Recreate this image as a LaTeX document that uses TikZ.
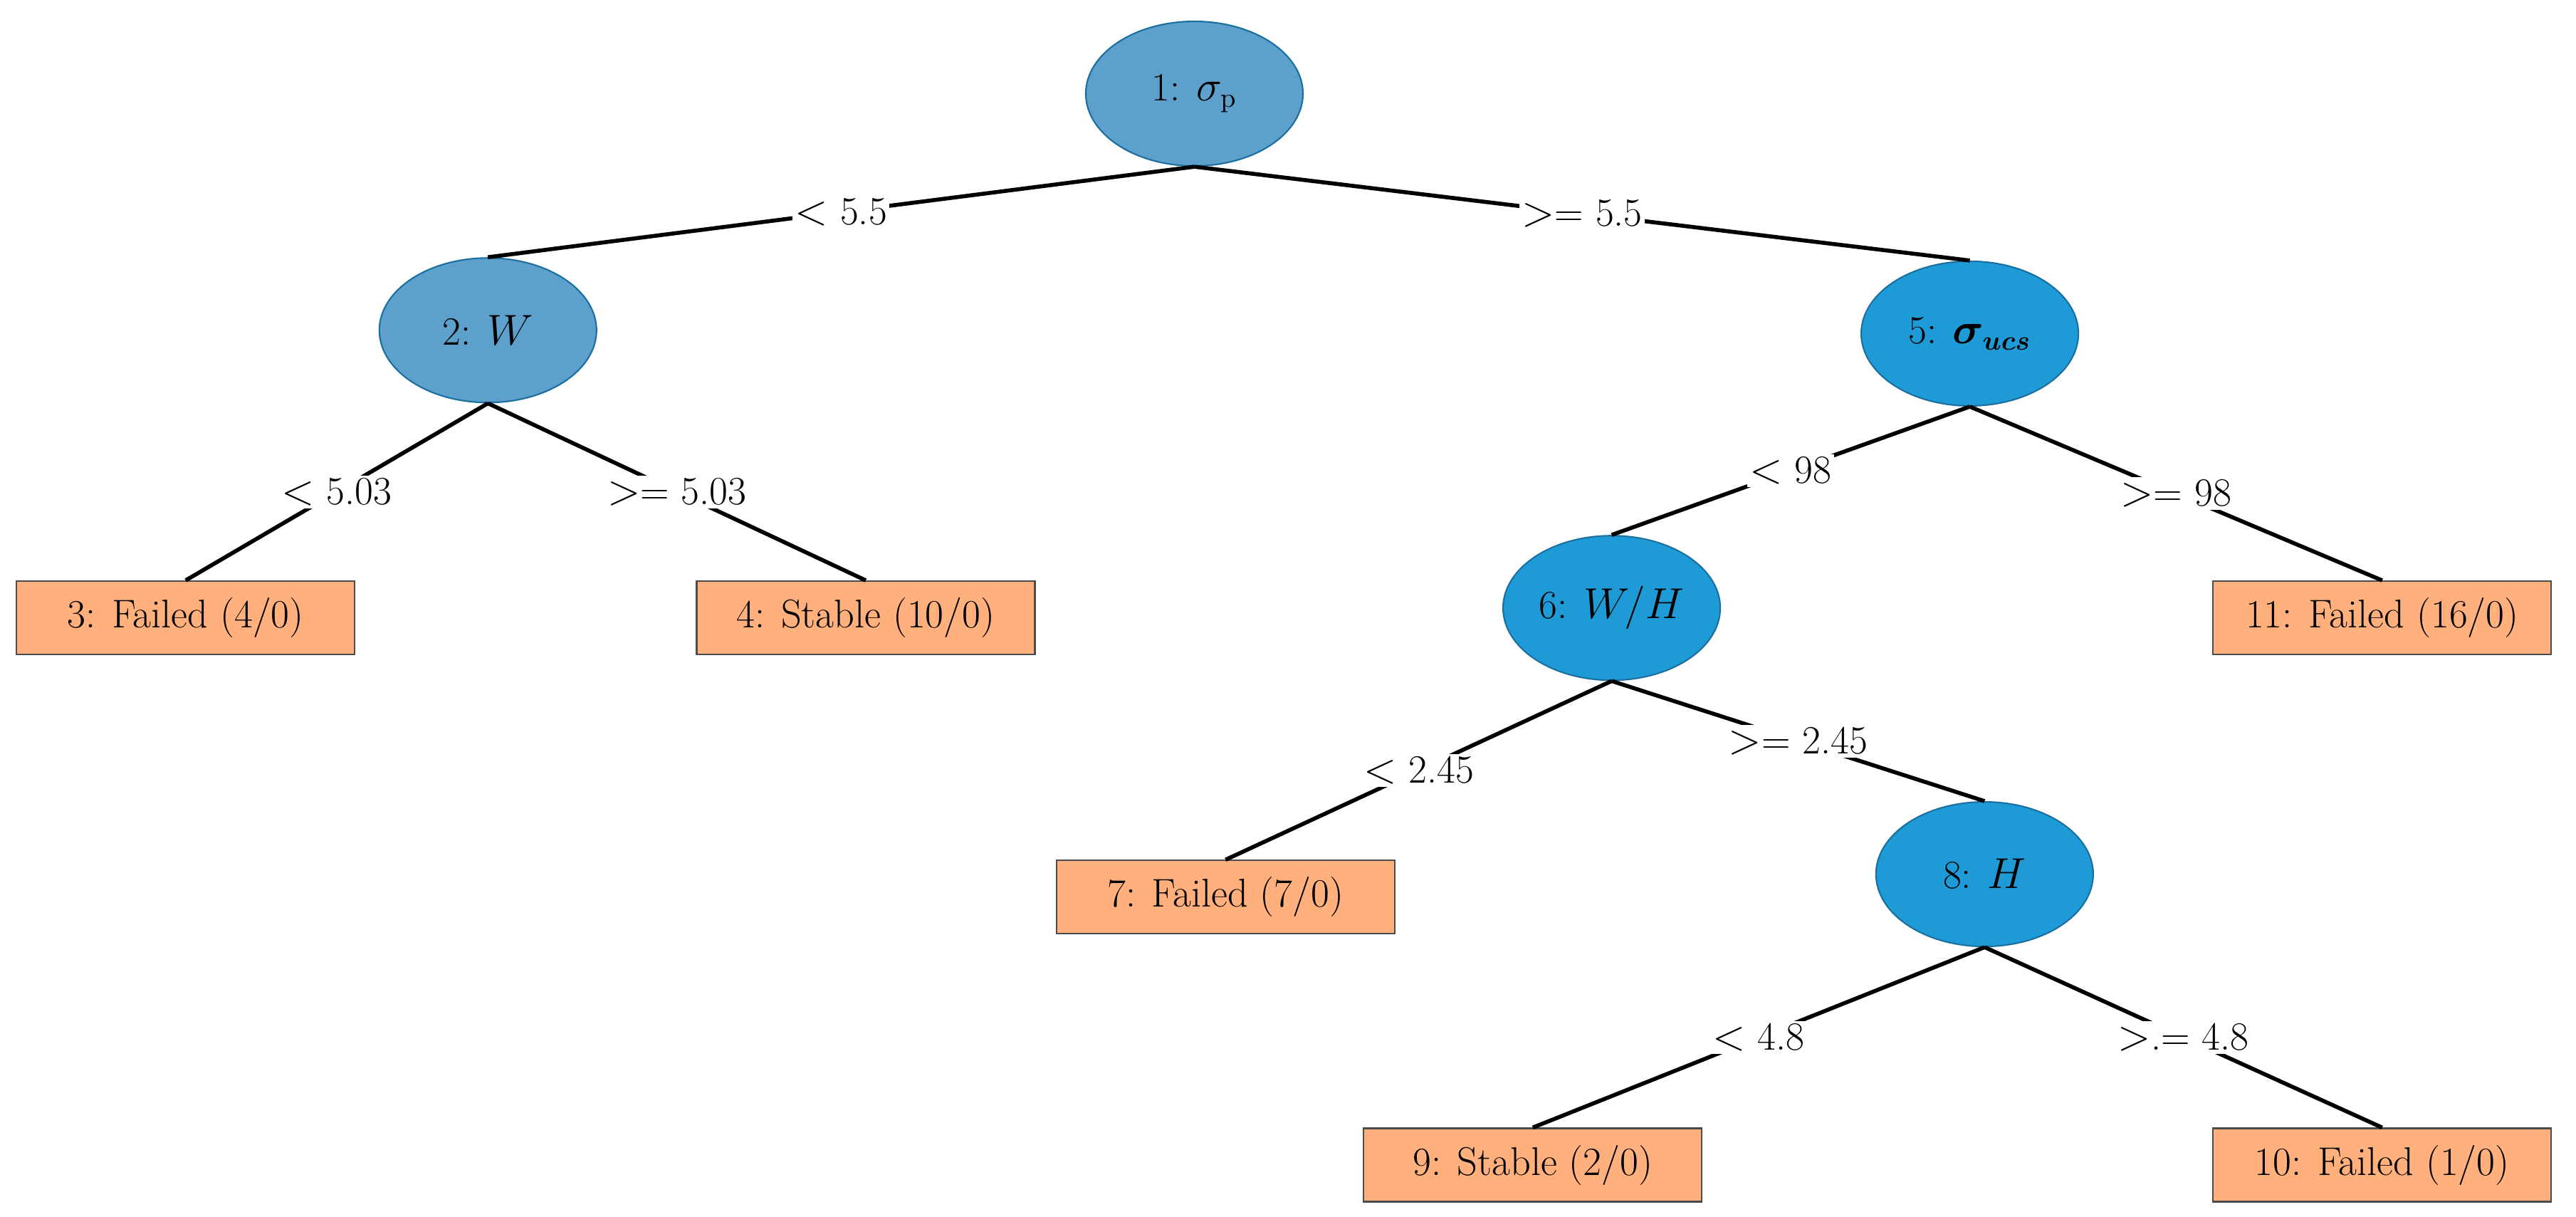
\documentclass[tikz,border=0pt]{standalone}
\usepackage{amsmath,bm}
\usetikzlibrary{shapes.geometric}
\definecolor{nodeA}{HTML}{5DA0CC}
\definecolor{nodeB}{HTML}{1E9BD7}
\definecolor{nodeEdge}{HTML}{1A6FA0}
\definecolor{leaf}{HTML}{FFB07C}
\begin{document}
\begin{tikzpicture}[x=0.02307cm,y=-0.02307cm,
  font=\fontsize{16}{18}\selectfont,
  split/.style={ellipse,draw=nodeEdge,line width=0.6pt,
    minimum width=3.05cm,minimum height=2.03cm,inner sep=0pt},
  splitA/.style={split,fill=nodeA},
  splitB/.style={split,fill=nodeB},
  leafn/.style={rectangle,draw=black!70,line width=0.6pt,fill=leaf,
    minimum width=4.75cm,minimum height=1.03cm,inner sep=0pt},
  br/.style={line width=1.6pt},
  lbl/.style={fill=white,inner sep=1pt,midway}]
\useasboundingbox (0,0) rectangle (1568,740.6);
\node[splitA] (n1) at (727,57) {1: $\sigma_{\mathrm{p}}$};
\node[splitA] (n2) at (297,201) {2: $W$};
\node[splitB] (n5) at (1199,203) {5: $\bm{\sigma_{ucs}}$};
\node[splitB] (n6) at (981,370) {6: $W/H$};
\node[splitB] (n8) at (1208,532) {8: $H$};
\node[leafn] (n3) at (113,376) {3: Failed (4/0)};
\node[leafn] (n4) at (527,376) {4: Stable (10/0)};
\node[leafn] (n11) at (1450,376) {11: Failed (16/0)};
\node[leafn] (n7) at (746,546) {7: Failed (7/0)};
\node[leafn] (n9) at (933,709) {9: Stable (2/0)};
\node[leafn] (n10) at (1450,709) {10: Failed (1/0)};
\draw[br] (n1.south) -- (n2.north) node[lbl] {$<$ 5.5};
\draw[br] (n1.south) -- (n5.north) node[lbl] {$>$= 5.5};
\draw[br] (n2.south) -- (n3.north) node[lbl] {$<$ 5.03};
\draw[br] (n2.south) -- (n4.north) node[lbl] {$>$= 5.03};
\draw[br] (n5.south) -- (n6.north) node[lbl] {$<$ 98};
\draw[br] (n5.south) -- (n11.north) node[lbl] {$>$= 98};
\draw[br] (n6.south) -- (n7.north) node[lbl] {$<$ 2.45};
\draw[br] (n6.south) -- (n8.north) node[lbl] {$>$= 2.45};
\draw[br] (n8.south) -- (n9.north) node[lbl] {$<$ 4.8};
\draw[br] (n8.south) -- (n10.north) node[lbl] {$>$.= 4.8};
\end{tikzpicture}
\end{document}
